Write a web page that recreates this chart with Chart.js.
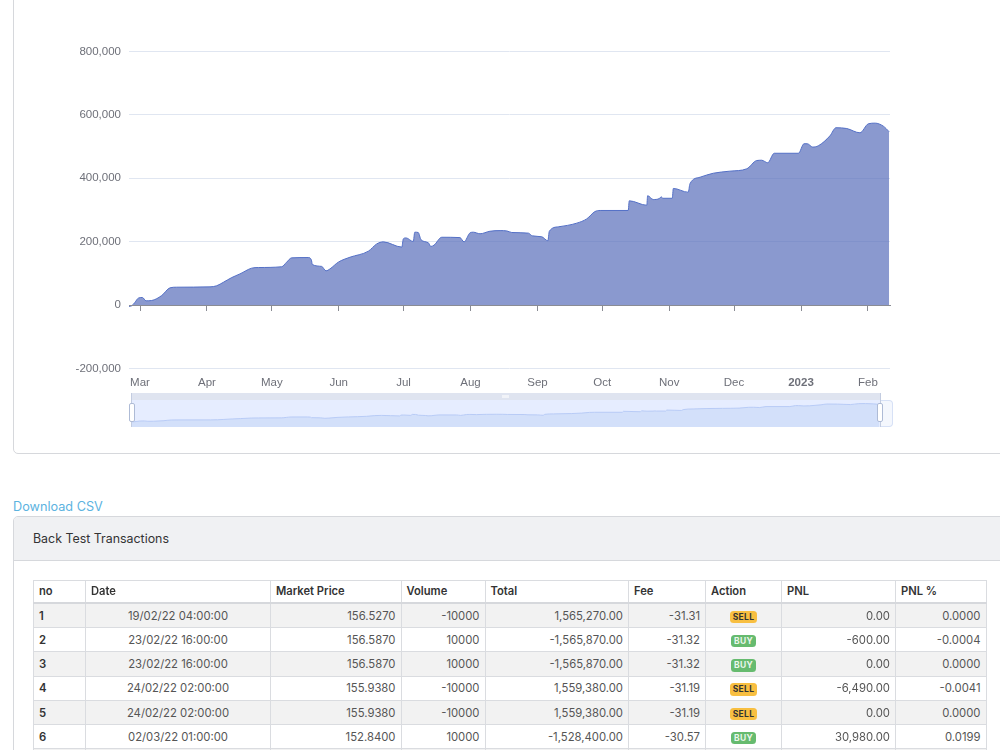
<!DOCTYPE html>
<html><head><meta charset="utf-8">
<script src="https://cdn.jsdelivr.net/npm/chart.js@4/dist/chart.umd.js"></script>
<style>
html,body{margin:0;padding:0;width:1000px;height:750px;overflow:hidden;background:#fff;font-family:Inter,"Noto Sans",sans-serif;}
.abs{position:absolute;box-sizing:border-box;}
#card1{left:13px;top:-30px;width:1040px;height:484px;border:1px solid #d6d8dc;border-radius:5px;}
#mainWrap{left:0;top:0;width:1000px;height:460px;}
#sel{left:131px;top:393px;width:749px;height:34px;background:#e6edff;}
#selTop{left:131px;top:393px;width:749px;height:7px;background:#dfe4f0;}
#grip{left:502px;top:394.5px;width:7px;height:3px;background:#fff;opacity:.55;}
#outline{left:131px;top:399.5px;width:762px;height:27.5px;border:1px solid #d7e1f6;border-left:none;border-radius:0 4px 4px 0;background:#f4f7fd;}
#prevWrap{left:131px;top:400px;width:749px;height:27px;}
.handle{width:6px;height:18.5px;top:403px;background:#fff;border:1px solid #aebbd6;border-radius:2px;}
#edgeR{left:879.5px;top:393px;width:1px;height:34px;background:#c3cce0;}
#edgeL{left:131px;top:393px;width:1px;height:34px;background:#c3cce0;}
#dl{left:13px;top:498px;font-size:12.7px;color:#5cb3df;line-height:17px;}
#card2{left:13px;top:516px;width:1040px;height:300px;border:1px solid #d6d8dc;border-radius:5px;}
#head2{left:14px;top:517px;width:1040px;height:43.5px;background:#f0f1f3;border-bottom:1px solid #d6d8dc;border-top-left-radius:4px;}
#title2{left:33px;top:530px;font-size:12.4px;color:#333;line-height:17px;}
table{position:absolute;left:33px;top:579.5px;width:952.5px;border-collapse:collapse;table-layout:fixed;font-size:11.3px;color:#555;}
th,td{border:1px solid #dadce0;padding:0 5px;height:24.3px;box-sizing:border-box;white-space:nowrap;overflow:hidden;}
th{text-align:left;color:#333;font-weight:600;height:23.2px;border-bottom:2px solid #d6d8dc;font-size:11.2px;}
td.b{font-weight:600;color:#333;text-align:left;}
td.c{text-align:center;}
td.r{text-align:right;}
tr.odd td{background:#f2f2f2;}
.badge{display:inline-block;font-size:8.5px;font-weight:700;line-height:12.5px;padding:0 3px;border-radius:3.5px;letter-spacing:.3px;vertical-align:middle;position:relative;top:.5px;}
.SELL{background:#f8bf41;color:#333;}
.BUY{background:#66bb6f;color:#eaf6ea;padding:0 3.5px;}
</style></head>
<body>
<div class="abs" id="card1"></div>
<div class="abs" id="mainWrap"><canvas id="main" width="1000" height="460"></canvas></div>
<div class="abs" id="outline"></div>
<div class="abs" id="sel"></div>
<div class="abs" id="prevWrap"><canvas id="prev" width="749" height="27"></canvas></div>
<div class="abs" id="selTop"></div>
<div class="abs" id="grip"></div>
<div class="abs" id="edgeL"></div>
<div class="abs" id="edgeR"></div>
<div class="abs handle" style="left:128.5px"></div>
<div class="abs handle" style="left:876.5px"></div>
<div class="abs" id="dl">Download CSV</div>
<div class="abs" id="card2"></div>
<div class="abs" id="head2"></div>
<div class="abs" id="title2">Back Test Transactions</div>
<table id="tbl"></table>
<script>
// Days since 2022-03-01
const days = [-5.1,-3.8,-2.3,-0.8,1.1,2.8,5.4,10,13.9,17,32.4,35.5,38.6,42.5,46.3,51.7,54.8,65.6,67.9,70.2,77.9,79.3,79.8,84.1,86.1,88,91.8,97.2,105.7,109.6,112.6,121.2,121.9,123.1,126.5,127.2,128.8,130.1,133.5,134.6,136.1,139.7,148.1,150,152.8,154.3,157.4,162,166.7,169.8,172.1,179.8,181.6,186,188.8,189.5,193.7,202.2,206.8,210.6,213,226,226.5,234.6,235,237.6,240.4,241.3,242,246.4,246.9,253.8,254.6,259.3,265.4,273.1,280.9,285.5,287.8,290.6,293.6,304.8,307.4,308.9,311.4,314,319.4,322.2,327.2,333.3,337.2,340.3,344.1,346.8];
const equity = [-4000,-2000,9000,22000,24000,13500,14500,30000,54500,56500,57500,61000,72000,87000,98500,116500,118500,121000,135500,149000,150000,143000,128000,122000,108000,114500,135500,151000,170000,193000,199500,183000,209000,212000,200500,230000,229000,206000,196500,185000,189000,214000,213000,199500,228000,230000,225000,233000,235000,234000,229000,227000,218500,215500,203000,233000,247000,258500,272000,295000,298500,298500,329000,315000,345000,333000,336000,341500,337000,337000,368000,356000,383000,403500,416000,422500,430000,456000,457000,449000,479000,479000,509000,509000,498500,502500,534000,559500,557000,543500,572000,574000,564500,547000];
const monthDays = [0,31,61,92,122,153,184,214,245,275,306,337];
const monthLabels = ['Mar','Apr','May','Jun','Jul','Aug','Sep','Oct','Nov','Dec','2023','Feb'];
const yTicks = [-200000,0,200000,400000,600000,800000];
const columns = ['no','Date','Market Price','Volume','Total','Fee','Action','PNL','PNL %'];
const colWidths = [52,185,130.5,84,143.5,77,76,114,90.5];
const rowNo = ['1','2','3','4','5','6','&nbsp;'];
const rowDate = ['19/02/22 04:00:00','23/02/22 16:00:00','23/02/22 16:00:00','24/02/22 02:00:00','24/02/22 02:00:00','02/03/22 01:00:00',''];
const rowPrice = ['156.5270','156.5870','156.5870','155.9380','155.9380','152.8400',''];
const rowVolume = ['-10000','10000','10000','-10000','-10000','10000',''];
const rowTotal = ['1,565,270.00','-1,565,870.00','-1,565,870.00','1,559,380.00','1,559,380.00','-1,528,400.00',''];
const rowFee = ['-31.31','-31.32','-31.32','-31.19','-31.19','-30.57',''];
const rowAction = ['SELL','BUY','BUY','SELL','SELL','BUY',''];
const rowPnl = ['0.00','-600.00','0.00','-6,490.00','0.00','30,980.00',''];
const rowPnlPct = ['0.0000','-0.0004','0.0000','-0.0041','0.0000','0.0199',''];

const points = days.map((d,i)=>({x:d,y:equity[i]}));
const X_MIN=-5.1, X_MAX=347.2;
const setMonthTicks = s => { s.ticks = monthDays.map(v=>({value:v})); };
const labelFor = v => monthLabels[monthDays.indexOf(v)];

new Chart(document.getElementById('main'),{
  type:'line',
  data:{datasets:[{data:points,borderColor:'#5470c6',borderWidth:1,backgroundColor:'rgba(88,110,186,0.7)',fill:'origin',pointRadius:0,cubicInterpolationMode:'monotone',xAxisID:'x',yAxisID:'y'}]},
  options:{
    responsive:false,animation:false,
    layout:{padding:{top:51.5,right:110,left:0,bottom:0}},
    plugins:{legend:{display:false},tooltip:{enabled:false}},
    scales:{
      x:{type:'linear',position:'bottom',min:X_MIN,max:X_MAX,
        afterBuildTicks:setMonthTicks,
        afterFit:s=>{s.height=91.5;},
        grid:{display:false},border:{display:false},
        ticks:{autoSkip:false,maxRotation:0,padding:-1,color:'#6E7079',
          callback:v=>labelFor(v),
          font:ctx=>({family:'"Liberation Sans",Arial,sans-serif',size:11.5,weight:ctx.tick&&ctx.tick.label==='2023'?'bold':'normal'})}},
      zero:{type:'linear',axis:'x',position:{y:0},min:X_MIN,max:X_MAX,
        afterBuildTicks:setMonthTicks,
        grid:{drawOnChartArea:false,drawTicks:true,tickLength:5,tickColor:'#8a8c94',z:1},
        border:{display:true,color:'#8a8c94',width:1,z:1},
        ticks:{display:false}},
      y:{type:'linear',min:-200000,max:800000,
        afterBuildTicks:s=>{s.ticks=yTicks.map(v=>({value:v}));},
        afterFit:s=>{s.width=129;},
        grid:{color:'#E0E6F1',drawTicks:false,lineWidth:1},border:{display:false},
        ticks:{padding:8,color:'#6E7079',font:{family:'"Liberation Sans",Arial,sans-serif',size:11.5},
          callback:v=>v.toLocaleString('en-US')}}
    }
  }
});

new Chart(document.getElementById('prev'),{
  type:'line',
  data:{datasets:[{data:points,borderColor:'#b8cbf6',borderWidth:1,backgroundColor:'#d3e0fa',fill:'start',pointRadius:0,cubicInterpolationMode:'monotone'}]},
  options:{responsive:false,animation:false,plugins:{legend:{display:false},tooltip:{enabled:false}},
    scales:{x:{type:'linear',display:false,min:X_MIN,max:X_MAX},y:{display:false,min:-168000,max:687000}}}
});

const tbl=document.getElementById('tbl');
let html='<colgroup>'+colWidths.map(w=>`<col style="width:${w}px">`).join('')+'</colgroup><tr>'+columns.map(c=>`<th>${c}</th>`).join('')+'</tr>';
rowNo.forEach((n,i)=>{
  const badge = rowAction[i] ? `<span class="badge ${rowAction[i]}">${rowAction[i]}</span>` : '';
  html+=`<tr class="${i%2==0?'odd':''}"><td class="b">${n}</td><td class="c">${rowDate[i]}</td><td class="r">${rowPrice[i]}</td><td class="r">${rowVolume[i]}</td><td class="r">${rowTotal[i]}</td><td class="r">${rowFee[i]}</td><td class="c">${badge}</td><td class="r">${rowPnl[i]}</td><td class="r">${rowPnlPct[i]}</td></tr>`;
});
tbl.innerHTML=html;
</script>
</body></html>
